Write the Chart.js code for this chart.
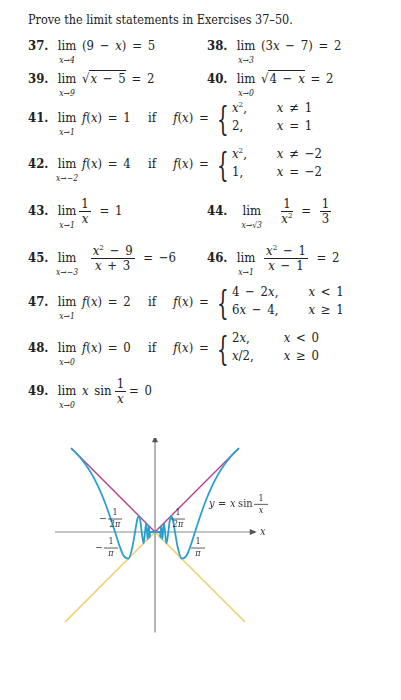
<!DOCTYPE html>
<html><head><meta charset="utf-8">
<script src="https://cdn.jsdelivr.net/npm/chart.js@4"></script>
<style>
body{margin:0;background:#fff;width:401px;height:700px;position:relative;overflow:hidden;font-family:"DejaVu Serif Condensed","DejaVu Serif",serif;color:#222;}
.it{position:absolute;font-size:13px;line-height:16px;white-space:nowrap;word-spacing:2px;}
.n{font-weight:bold;display:inline-block;width:24px;}
.lim{position:relative;display:inline-block;}
.lim .s{position:absolute;left:50%;transform:translateX(-50%);top:14px;font-size:8.5px;font-style:italic;white-space:nowrap;word-spacing:0;}
i{font-style:italic}
.fr{display:inline-block;vertical-align:middle;text-align:center;margin:0 3px;}
.fr>span{display:block;line-height:14px;}
.fr>span.t{border-bottom:1px solid #222;padding:0 2px;}
.pw{display:inline-block;vertical-align:middle;}
.br{display:inline-block;vertical-align:middle;font-size:34px;font-weight:100;transform:scaleX(0.6);line-height:34px;margin:0 -1px;}
.pw table{border-collapse:collapse;display:inline-table;vertical-align:middle;}
.pw td{padding:0 0 2px 0;line-height:16px;}
.pw td.c{padding-left:30px}
.sq{border-top:1px solid #222;padding-left:1px}
sup{font-size:8px;line-height:0}
</style></head><body>
<div class="it" style="left:28px;top:12px;font-size:12.5px;word-spacing:0">Prove the limit statements in Exercises 37–50.</div>

<div class="it" style="left:28px;top:38px"><span class="n">37.</span> <span class="lim">lim<span class="s">x→4</span></span> (9 − <i>x</i>) = 5</div>
<div class="it" style="left:207px;top:38px"><span class="n">38.</span> <span class="lim">lim<span class="s">x→3</span></span> (3<i>x</i> − 7) = 2</div>

<div class="it" style="left:28px;top:71px"><span class="n">39.</span> <span class="lim">lim<span class="s">x→9</span></span> √<span class="sq"><i>x</i> − 5</span> = 2</div>
<div class="it" style="left:207px;top:71px"><span class="n">40.</span> <span class="lim">lim<span class="s">x→0</span></span> √<span class="sq">4 − <i>x</i></span> = 2</div>

<div class="it" style="left:28px;top:100px"><span class="n">41.</span> <span class="lim">lim<span class="s">x→1</span></span> <i>f</i>(<i>x</i>) = 1 &nbsp;&nbsp;if &nbsp;&nbsp;<i>f</i>(<i>x</i>) = <span class="pw"><span class="br">{</span><table><tr><td><i>x</i><sup>2</sup>,</td><td class="c"><i>x</i> ≠ 1</td></tr><tr><td>2,</td><td class="c"><i>x</i> = 1</td></tr></table></span></div>

<div class="it" style="left:28px;top:146px"><span class="n">42.</span> <span class="lim">lim<span class="s">x→−2</span></span> <i>f</i>(<i>x</i>) = 4 &nbsp;&nbsp;if &nbsp;&nbsp;<i>f</i>(<i>x</i>) = <span class="pw"><span class="br">{</span><table><tr><td><i>x</i><sup>2</sup>,</td><td class="c"><i>x</i> ≠ −2</td></tr><tr><td>1,</td><td class="c"><i>x</i> = −2</td></tr></table></span></div>

<div class="it" style="left:28px;top:197px"><span class="n">43.</span> <span class="lim">lim<span class="s">x→1</span></span><span class="fr"><span class="t">1</span><span><i>x</i></span></span> = 1</div>
<div class="it" style="left:207px;top:197px"><span class="n">44.</span> &nbsp;<span class="lim">lim<span class="s">x→√3</span></span> &nbsp;&nbsp;<span class="fr"><span class="t">1</span><span><i>x</i><sup>2</sup></span></span> = <span class="fr"><span class="t">1</span><span>3</span></span></div>

<div class="it" style="left:28px;top:244px"><span class="n">45.</span> <span class="lim">lim<span class="s">x→−3</span></span> &nbsp;<span class="fr"><span class="t"><i>x</i><sup>2</sup> − 9</span><span><i>x</i> + 3</span></span> = −6</div>
<div class="it" style="left:207px;top:244px"><span class="n">46.</span> <span class="lim">lim<span class="s">x→1</span></span> <span class="fr"><span class="t"><i>x</i><sup>2</sup> − 1</span><span><i>x</i> − 1</span></span> = 2</div>

<div class="it" style="left:28px;top:284px"><span class="n">47.</span> <span class="lim">lim<span class="s">x→1</span></span> <i>f</i>(<i>x</i>) = 2 &nbsp;&nbsp;if &nbsp;&nbsp;<i>f</i>(<i>x</i>) = <span class="pw"><span class="br">{</span><table><tr><td>4 − 2<i>x</i>,</td><td class="c"><i>x</i> &lt; 1</td></tr><tr><td>6<i>x</i> − 4,</td><td class="c"><i>x</i> ≥ 1</td></tr></table></span></div>

<div class="it" style="left:28px;top:330px"><span class="n">48.</span> <span class="lim">lim<span class="s">x→0</span></span> <i>f</i>(<i>x</i>) = 0 &nbsp;&nbsp;if &nbsp;&nbsp;<i>f</i>(<i>x</i>) = <span class="pw"><span class="br">{</span><table><tr><td>2<i>x</i>,</td><td class="c"><i>x</i> &lt; 0</td></tr><tr><td><i>x</i>/2,</td><td class="c"><i>x</i> ≥ 0</td></tr></table></span></div>

<div class="it" style="left:28px;top:377px"><span class="n">49.</span> <span class="lim">lim<span class="s">x→0</span></span> <i>x</i> sin<span class="fr"><span class="t">1</span><span><i>x</i></span></span>= 0</div>

<div style="position:absolute;left:55px;top:438px;width:240px;height:202px"><canvas id="c"></canvas></div>
<script>
// curve y = x sin(1/x) (right half; function is even)
const curveX = [0.668,0.637,0.60,0.55,0.50,0.45,0.40,0.35,0.318,0.28,0.25,0.212,0.18,0.159,0.14,0.127,0.115,0.106,0.0909,0.0796,0.0707,0.0637,0.0579,0.053,0.049,0.0455,0.0424,0.0398,0];
const curveY = [0.665,0.637,0.597,0.533,0.455,0.358,0.239,0.098,0,-0.117,-0.189,-0.212,-0.119,0,0.106,0.127,0.076,0,-0.0909,0,0.0707,0,-0.0579,0,0.049,0,-0.0424,0,0];
const upperLineX = [-0.668,0,0.668], upperLineY = [0.668,0,0.668];
const lowerLineX = [-0.716,0,0.716], lowerLineY = [-0.716,0,-0.716];
const xAxisX = [-0.796,0.77], yAxisY = [-0.80,0.73];
const xLim = [-0.796,1.114], yLim = [-0.859,0.748];
const FONT='"DejaVu Serif Condensed","DejaVu Serif",serif';

const pts=[];
for(let i=0;i<curveX.length-1;i++) pts.push({x:-curveX[i],y:curveY[i]});
pts.push({x:0,y:0});
for(let i=curveX.length-2;i>=0;i--) pts.push({x:curveX[i],y:curveY[i]});
const zip=(a,b)=>a.map((v,i)=>({x:v,y:b[i]}));

const labels={
 id:'labels',
 afterDatasetsDraw(ch){
  const c=ch.ctx,X=ch.scales.x,Y=ch.scales.y;
  const px=v=>X.getPixelForValue(v), py=v=>Y.getPixelForValue(v);
  c.save(); c.strokeStyle='#333';
  c.fillStyle='#555';
  let ax=px(xAxisX[1]),ay=py(0);
  c.beginPath();c.moveTo(ax+5,ay);c.lineTo(ax-2,ay-3);c.lineTo(ax-2,ay+3);c.fill();
  let bx=px(0),by=py(yAxisY[1]);
  c.beginPath();c.moveTo(bx,by-5);c.lineTo(bx-3,by+2);c.lineTo(bx+3,by+2);c.fill();
  c.fillStyle='#333';
  c.font='italic 11px '+FONT; c.textAlign='center'; c.textBaseline='middle';
  c.fillText('x',ax+11,ay); c.fillText('y',bx,by-10);
  function frac(cx,cy,num,den,pre){
    c.font='9px '+FONT;
    c.fillText(num,cx,cy-6);
    c.font='italic 9px '+FONT;
    c.fillText(den,cx,cy+6);
    c.lineWidth=0.8;c.beginPath();c.moveTo(cx-7,cy);c.lineTo(cx+7,cy);c.stroke();
    if(pre){c.font='10px '+FONT;c.fillText('−',cx-12,cy);}
  }
  frac(px(-1/(2*Math.PI))-20,py(0)-13,'1','2π',true);
  frac(px(1/(2*Math.PI))+3,py(0)-13,'1','2π',false);
  frac(px(-1/Math.PI)-4,py(0)+16,'1','π',true);
  frac(px(1/Math.PI)+3,py(0)+16,'1','π',false);
  c.textAlign='left';
  let tx=px(0.43),ty=py(0.22);
  c.font='italic 11px '+FONT; c.fillText('y',tx,ty);
  c.font='11px '+FONT; c.fillText('=',tx+9,ty);
  c.font='italic 11px '+FONT; c.fillText('x',tx+21,ty);
  c.font='11px '+FONT; c.fillText('sin',tx+29,ty);
  c.textAlign='center'; frac(tx+52,ty,'1','x',false);
  c.restore();
 }
};
new Chart(document.getElementById('c'),{
 type:'scatter',
 data:{datasets:[
  {data:pts,showLine:true,borderColor:'#2aa0cc',borderWidth:1.8,pointRadius:0,cubicInterpolationMode:'monotone',order:0},
  {data:zip(upperLineX,upperLineY),showLine:true,borderColor:'#b8398e',borderWidth:1.3,pointRadius:0,order:1},
  {data:zip(lowerLineX,lowerLineY),showLine:true,borderColor:'#efc95a',borderWidth:1.3,pointRadius:0,order:1},
  {data:zip(xAxisX,[0,0]),showLine:true,borderColor:'#8a8a8a',borderWidth:1.2,pointRadius:0,order:2},
  {data:zip([0,0],yAxisY),showLine:true,borderColor:'#9a9a9a',borderWidth:1.5,pointRadius:0,order:2}
 ]},
 options:{responsive:true,maintainAspectRatio:false,animation:false,
  layout:{padding:0},
  plugins:{legend:{display:false},tooltip:{enabled:false}},
  scales:{x:{type:'linear',min:xLim[0],max:xLim[1],display:false},y:{type:'linear',min:yLim[0],max:yLim[1],display:false}}},
 plugins:[labels]
});
</script>
</body></html>
